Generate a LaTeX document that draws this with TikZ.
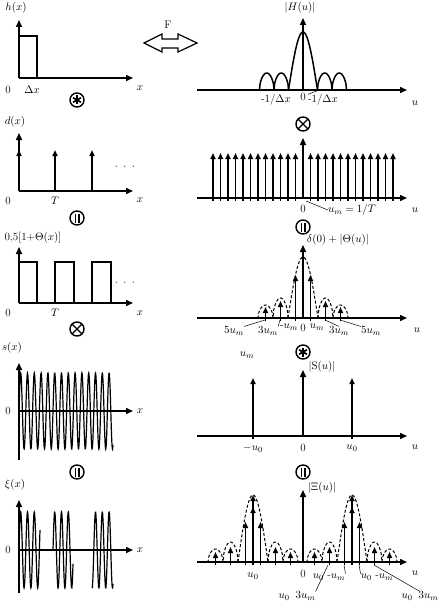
\documentclass[tikz,border=0pt]{standalone}
\usetikzlibrary{arrows.meta,calc}
\newcommand\drawenv[5]{%
  \draw[env] plot[domain=-15:15,samples=40] ({#1+\x},{#2-#3*cos(6*\x)});
  \foreach \sg in {-1,1}{%
    \draw[env] plot[domain=15:30,samples=25] ({#1+(\sg)*\x},{#2-#4*sqrt(abs(sin(12*(\x-15))))});
    \draw[env] plot[domain=30:45,samples=25] ({#1+(\sg)*\x},{#2-#5*sqrt(abs(sin(12*(\x-30))))});
  }%
}
\begin{document}
\begin{tikzpicture}[x=1pt,y=-1pt,
  every node/.style={font=\fontsize{11}{13}\selectfont, inner sep=0pt},
  axis/.style={line width=1.5pt,-{Triangle[length=7pt,width=6pt]}},
  imp/.style={line width=1.5pt,-{Triangle[length=6pt,width=5pt]}},
  env/.style={line width=1pt,dash pattern=on 3pt off 2pt},
  curve/.style={line width=1.5pt},
  sig/.style={line width=1.2pt},
  lead/.style={line width=0.5pt},
  opbase/.style={circle,draw,line width=1.4pt,minimum size=14pt,inner sep=0pt},
  opconv/.style={opbase,path picture={
     \foreach \a in {90,30,150}{\draw[line width=1.7pt]
       ($(path picture bounding box.center)+(\a:4.5pt)$) -- ($(path picture bounding box.center)+(\a+180:4.5pt)$);}}},
  opmul/.style={opbase,path picture={
     \foreach \a in {45,135}{\draw[line width=1.2pt]
       ($(path picture bounding box.center)+(\a:7pt)$) -- ($(path picture bounding box.center)+(\a+180:7pt)$);}}},
  oppar/.style={opbase,path picture={
     \foreach \dx in {-1.8pt,1.8pt}{\draw[line width=1.4pt]
       ($(path picture bounding box.center)+(\dx,-4.5pt)$) -- ($(path picture bounding box.center)+(\dx,4.5pt)$);}}}
]
\useasboundingbox (0,0) rectangle (445,607);

% ---------- Row 1 left
\draw[axis] (19,78) -- (19,20);
\draw[axis] (19,78) -- (133,78);
\draw[curve] (19,78) -- (19,36) -- (37,36) -- (37,78);
\node (hl) at (16,8) {$h(x)$};
\node (o1) at (8,90) {0};
\node (dx1) at (32,90) {$\Delta x$};
\node (x1) at (140,88) {$x$};
\node[opconv] (op1) at (77,100) {};

% ---------- Fourier double arrow
\node (F) at (168,25) {F};
\draw[line width=1.2pt] (144,43) -- (162,34) -- (162,39) -- (178,39) -- (178,34) -- (197,43)
  -- (178,52) -- (178,48) -- (162,48) -- (162,52) -- cycle;

% ---------- Row 1 right
\draw[axis] (197,90) -- (407,90);
\draw[axis] (303,90) -- (303,18);
\draw[curve] plot[domain=-14.5:14.5,samples=50] ({303+\x},{90-58*cos(90*\x/14.5)});
\foreach \sg in {-1,1}{
  \draw[curve] plot[domain=14.5:29,samples=30] ({303+(\sg)*\x},{90-17*sqrt(abs(sin(180*(\x-14.5)/14.5)))});
  \draw[curve] plot[domain=29:43.5,samples=30] ({303+(\sg)*\x},{90-17*sqrt(abs(sin(180*(\x-29)/14.5)))});
}
\node (Hl) at (300,8) {$|H(u)|$};
\node (n1) at (276,100) {-1/$\Delta x$};
\node (z1) at (303,97) {0};
\node (n2) at (323,100) {-1/$\Delta x$};
\draw[lead] (317,91) -- (n2.north west);
\node (u1) at (415,103) {$u$};
\node[opmul] (op2) at (303,124) {};

% ---------- Row 2 left
\draw[axis] (19,191) -- (19,133);
\draw[axis] (19,191) -- (133,191);
\draw[imp] (19,191) -- (19,150);
\draw[imp] (55,191) -- (55,150);
\draw[imp] (92,191) -- (92,150);
\node (dl) at (15,122) {$d(x)$};
\node (dots1) at (125,167) {$\cdot\;\cdot\;\cdot$};
\node (o2) at (8,201) {0};
\node (T2) at (55,201) {$T$};
\node (x2) at (140,200) {$x$};
\node[oppar] (op3) at (77,218) {};

% ---------- Row 2 right
\draw[axis] (197,198) -- (407,198);
\draw[axis] (303,198) -- (303,138);
\foreach \k in {1,...,12}{
  \draw[imp] ({303+7.5*\k},201) -- ({303+7.5*\k},153);
  \draw[imp] ({303-7.5*\k},201) -- ({303-7.5*\k},153);
}
\node (z2) at (303,209) {0};
\node (um) at (352,210) {$u_m=1/T$};
\draw[lead] (306,201) -- (um.west);
\node (u2) at (415,210) {$u$};
\node[oppar] (op4) at (303,227) {};

% ---------- Row 3 left
\draw[axis] (19,303) -- (19,247);
\draw[axis] (19,303) -- (133,303);
\draw[curve] (19,303) -- (19,262) -- (37,262) -- (37,303);
\draw[curve] (55,303) -- (55,262) -- (74,262) -- (74,303);
\draw[curve] (92,303) -- (92,262) -- (111,262) -- (111,303);
\node (thl) at (33,238) {0,5[1+$\Theta(x)$]};
\node (dots2) at (125,283) {$\cdot\;\cdot\;\cdot$};
\node (o3) at (8,313) {0};
\node (T3) at (55,313) {$T$};
\node (x3) at (140,313) {$x$};
\node[opmul] (op5) at (77,329) {};

% ---------- Row 3 right
\draw[axis] (197,318) -- (407,318);
\draw[axis] (303,318) -- (303,245);
\drawenv{303}{318}{61}{20}{13}
\foreach \sg in {-1,1}{
  \draw[imp] ({303+(\sg)*7.5},321) -- ({303+(\sg)*7.5},275);
  \draw[imp] ({303+(\sg)*22.5},321) -- ({303+(\sg)*22.5},301);
  \draw[imp] ({303+(\sg)*37.5},321) -- ({303+(\sg)*37.5},307);
}
\node (Th) at (338,240) {$\delta(0)+|\Theta(u)|$};
\node (l5m) at (234,331) {$5u_m$};
\node (l3m) at (268,331) {$3u_m$};
\node (l1m) at (289,327) {-$u_m$};
\node (z3) at (303,328) {0};
\node (r1m) at (317,327) {$u_m$};
\node (r3m) at (339,331) {$3u_m$};
\node (r5m) at (371,331) {$5u_m$};
\draw[lead] (265,320) -- (l5m.north east);
\draw[lead] (280,320) -- (l3m.north east);
\draw[lead] (325,320) -- (r3m.north);
\draw[lead] (340,320) -- (r5m.north west);
\node (u3) at (417,330) {$u$};
\node (um2) at (247,355) {$u_m$};
\node[opconv] (op6) at (303,352) {};

% ---------- Row 4 left
\draw[axis] (19,460) -- (19,363);
\draw[axis] (19,411) -- (133,411);
\draw[sig] plot[domain=19:113,samples=400] (\x,{411-38*sin(52.94*(\x-19))});
\node (sl) at (12,348) {$s(x)$};
\node (o4) at (8,411) {0};
\node (x4) at (140,411) {$x$};
\node[oppar] (op7) at (77,472) {};

% ---------- Row 4 right
\draw[axis] (197,436) -- (407,436);
\draw[axis] (303,436) -- (303,370);
\draw[imp] (253,439) -- (253,378);
\draw[imp] (352,439) -- (352,378);
\node (Sl) at (322,367) {$|\mathrm{S}(u)|$};
\node (mu0) at (253,448) {$-u_0$};
\node (z4) at (303,448) {0};
\node (pu0) at (352,448) {$u_0$};
\node (u4) at (415,447) {$u$};
\node[oppar] (op8) at (303,472) {};

% ---------- Row 5 left
\draw[axis] (19,593) -- (19,500);
\draw[axis] (19,550) -- (133,550);
\draw[sig] plot[domain=19:40,samples=100] (\x,{550-38*sin(52.94*(\x-19))});
\draw[sig] plot[domain=53:73,samples=100] (\x,{550-38*sin(52.94*(\x-19))});
\draw[sig] plot[domain=92:113,samples=100] (\x,{550-38*sin(52.94*(\x-19))});
\node (xil) at (15,485) {$\xi(x)$};
\node (o5) at (8,550) {0};
\node (x5) at (140,550) {$x$};

% ---------- Row 5 right
\draw[axis] (197,562) -- (407,562);
\draw[axis] (303,562) -- (303,490);
\foreach \c in {253,352}{
  \drawenv{\c}{562}{67}{20}{13}
  \draw[imp] (\c,565) -- (\c,495);
  \draw[imp] (\c,565) -- (\c,507);
  \foreach \sg in {-1,1}{
    \draw[imp] ({\c+(\sg)*7.5},565) -- ({\c+(\sg)*7.5},522);
    \draw[imp] ({\c+(\sg)*22.5},565) -- ({\c+(\sg)*22.5},547);
    \draw[imp] ({\c+(\sg)*37.5},565) -- ({\c+(\sg)*37.5},552);
  }
}
\node (Xil) at (322,488) {$|\Xi(u)|$};
\node (u05) at (253,576) {$u_0$};
\node (z5) at (303,574) {0};
\node (a1) at (329,577) {$u_0$ -$u_m$};
\node (a2) at (377,577) {$u_0$ -$u_m$};
\node (b1) at (297,596) {$u_0\;\; 3u_m$};
\node (b2) at (420,596) {$u_0\;\; 3u_m$};
\draw[lead] (328,565) -- (b1.north east);
\draw[lead] (344,565) -- (a1.north east);
\draw[lead] (359,565) -- (a2.north west);
\draw[lead] (374,565) -- (b2.north);
\node (u5) at (415,573) {$u$};
\end{tikzpicture}
\end{document}
